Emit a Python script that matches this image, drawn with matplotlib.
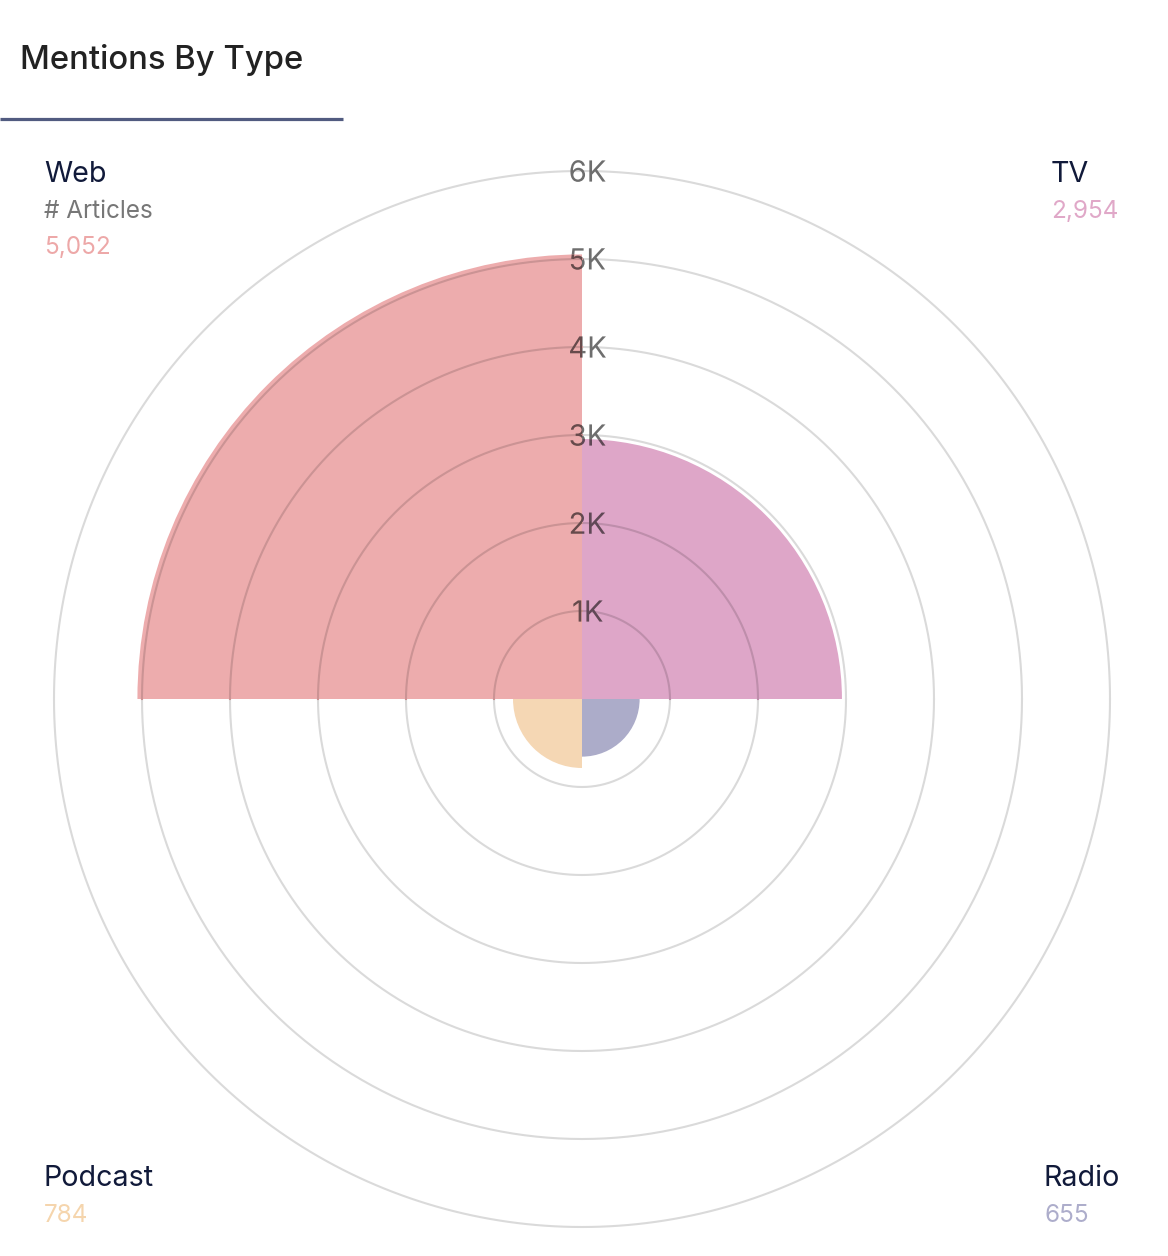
import numpy as np
import matplotlib
matplotlib.use("Agg")
import matplotlib.pyplot as plt
from matplotlib.textpath import TextPath
from matplotlib.patches import PathPatch
from matplotlib.path import Path
from matplotlib.font_manager import FontProperties
from matplotlib.transforms import Affine2D, IdentityTransform

plt.rcParams['font.family'] = ['Inter', 'DejaVu Sans']

# ---- data ----
categories = ["TV", "Web", "Podcast", "Radio"]
values = [2954, 5052, 784, 655]
value_labels = ["2,954", "5,052", "784", "655"]
fill_colors = ["#DEA6C8", "#EDACAD", "#F5D7B4", "#ACACC9"]
text_colors = ["#E0A8C8", "#EDA8A8", "#F5D5AD", "#ADADCB"]
ring_values = [1000, 2000, 3000, 4000, 5000, 6000]
ring_labels = ["1K", "2K", "3K", "4K", "5K", "6K"]
title = "Mentions By Type"
subtitle = "# Articles"

RING_GRAY = np.array([218, 218, 218]) / 255
LABEL_GRAY = np.array([110, 110, 110]) / 255


def hex2rgb(h):
    h = h.lstrip("#")
    return np.array([int(h[i:i + 2], 16) for i in (0, 2, 4)]) / 255


W, H = 1168, 1256
DPI = 100
fig = plt.figure(figsize=(W / DPI, H / DPI), dpi=DPI)
fig.patch.set_facecolor("white")

cx, cy, R = 582, 699, 528
ax = fig.add_axes([(cx - R) / W, (H - cy - R) / H, 2 * R / W, 2 * R / H],
                  projection="polar")
ax.set_ylim(0, ring_values[-1])
ax.set_autoscale_on(False)
ax.spines["polar"].set_visible(False)
ax.grid(False)
ax.set_xticks([])
ax.set_yticks([])
ax.set_facecolor("none")

th = np.linspace(0, 2 * np.pi, 721)
for r in ring_values:
    ax.plot(th, np.full_like(th, r), color=RING_GRAY, lw=1.5, zorder=0,
            clip_on=False)

centers = np.deg2rad([45, 135, 225, 315])
width = np.pi / 2
bars = ax.bar(centers, values, width=width, color=fill_colors,
              linewidth=0, zorder=2)

# ring tick labels as paths (so copies can be clipped by the bars)
fp = FontProperties(family="Inter", size=21)
label_paths = []
for r, lab in zip(ring_values, ring_labels):
    tp = TextPath((0, 0), lab, prop=fp)
    ext = tp.get_extents()
    px, py = ax.transData.transform((np.pi / 2, r))
    scale = DPI / 72
    t = (Affine2D().translate(-(ext.x0 + ext.x1) / 2, -(ext.y0 + ext.y1) / 2)
         .scale(scale).translate(px + 6, py))
    label_paths.append(t.transform_path(tp))

for p in label_paths:
    ax.add_artist(PathPatch(p, facecolor=LABEL_GRAY, edgecolor="none",
                            transform=IdentityTransform(), zorder=1,
                            clip_on=False))

# multiplied copies over each bar (rings + labels show through the fill)
for cth, v, fc in zip(centers, values, fill_colors):
    c = hex2rgb(fc)
    t0, t1 = cth - width / 2, cth + width / 2
    arc = np.linspace(t0, t1, 200)
    verts = [(t0, 0)] + [(a, v) for a in arc] + [(t1, 0), (t0, 0)]
    wedge = PathPatch(Path(verts, closed=True), transform=ax.transData)
    for r in ring_values:
        if r < v:
            ax.plot(arc, np.full_like(arc, r), color=RING_GRAY * c, lw=1.5,
                    zorder=3)
    for p in label_paths:
        pp = PathPatch(p, facecolor=LABEL_GRAY * c, edgecolor="none",
                       transform=IdentityTransform(), zorder=3)
        ax.add_artist(pp)
        pp.set_clip_path(wedge)

# title and underline
fig.text(20 / W, 1 - 60 / H, title, fontsize=23.6, fontweight="medium",
         color="#222222", ha="left", va="center")
fig.add_artist(plt.Line2D([0, 343 / W], [1 - 119 / H, 1 - 119 / H],
                          color="#515B80", lw=2.3, solid_capstyle="butt"))

name_color = "#111A3A"
NS, VS = 20.6, 17.5


def corner(x, y, name, lines):
    fig.text(x / W, 1 - y / H, name, fontsize=NS, color=name_color,
             ha="left", va="center")
    for i, (txt, col) in enumerate(lines):
        fig.text(x / W, 1 - (y + 37 * (i + 1)) / H, txt, fontsize=VS,
                 color=col, ha="left", va="center")


corner(44, 174, categories[1], [(subtitle, "#777777"),
                                (value_labels[1], text_colors[1])])
corner(1051, 174, categories[0], [(value_labels[0], text_colors[0])])
corner(44, 1178, categories[2], [(value_labels[2], text_colors[2])])
corner(1044, 1178, categories[3], [(value_labels[3], text_colors[3])])

fig.savefig("out.png", dpi=DPI, facecolor="white")
